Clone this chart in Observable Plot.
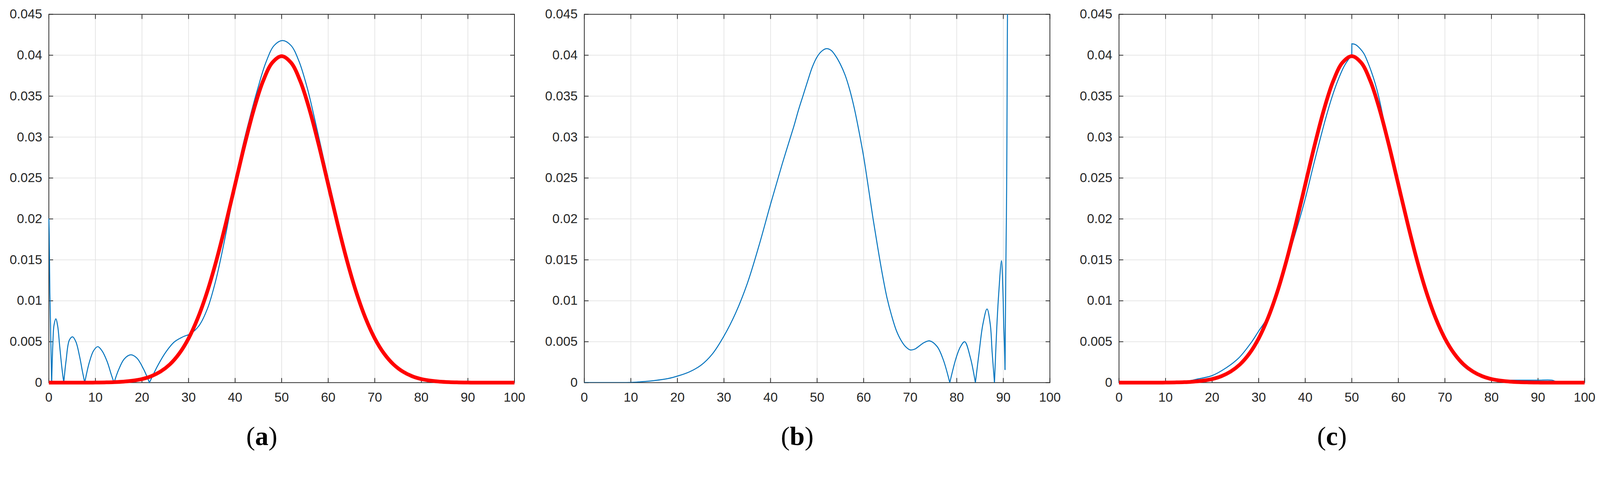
<!DOCTYPE html>
<html>
<head>
<meta charset="utf-8">
<script src="https://cdn.jsdelivr.net/npm/d3@7"></script>
<script src="https://cdn.jsdelivr.net/npm/@observablehq/plot@0.6"></script>
<style>
  html, body { margin: 0; padding: 0; background: #fff; overflow: hidden; }
  #fig { position: relative; width: 4306px; height: 1231px; overflow: hidden; background: #fff; transform-origin: 0 0; }
  .panel { position: absolute; top: 0; }
  .cap { position: absolute; top: 1137px; width: 300px; font-family: "Liberation Serif", "DejaVu Serif", serif; font-size: 72px; line-height: 72px; color: #000; text-align: center; }
  .cap b { font-weight: bold; }
</style>
</head>
<body>
<div id="fig"></div>
<script>
// ---- axes ----
const xTicks = [0, 10, 20, 30, 40, 50, 60, 70, 80, 90, 100];
const xTickLabels = ["0", "10", "20", "30", "40", "50", "60", "70", "80", "90", "100"];
const yTicks = [0, 0.005, 0.01, 0.015, 0.02, 0.025, 0.03, 0.035, 0.04, 0.045];
const yTickLabels = ["0", "0.005", "0.01", "0.015", "0.02", "0.025", "0.03", "0.035", "0.04", "0.045"];
const panelLabels = ["a", "b", "c"];

// ---- red reference curve (panels a and c) ----
const redX = [0, 2, 4, 6, 8, 10, 12, 14, 16, 18, 20, 22, 24, 26, 28, 30, 32, 34, 36, 38, 40, 42, 44, 46, 48, 50,
              52, 54, 56, 58, 60, 62, 64, 66, 68, 70, 72, 74, 76, 78, 80, 82, 84, 86, 88, 90, 92, 94, 96, 98, 100];
const redY = [0, 0, 0, 0, 0, 0.00001, 0.00003, 0.00006, 0.00012, 0.00024, 0.00044, 0.00079, 0.00136, 0.00224, 0.00355,
              0.00540, 0.00790, 0.01109, 0.01497, 0.01942, 0.02420, 0.02897, 0.03332, 0.03683, 0.03910, 0.03989,
              0.03910, 0.03683, 0.03332, 0.02897, 0.02420, 0.01942, 0.01497, 0.01109, 0.00790, 0.00540, 0.00355,
              0.00224, 0.00136, 0.00079, 0.00044, 0.00024, 0.00012, 0.00006, 0.00003, 0.00001, 0, 0, 0, 0, 0];

// ---- blue curve, panel (a) ----
const blueAX = [0, 0.08, 0.15, 0.22, 0.3, 0.45, 0.6, 0.86, 1.1, 1.5, 1.9, 2.3, 2.8, 3.2, 3.7, 4.4, 5.1, 5.8, 6.6, 7.2, 7.7,
                8.7, 9.6, 10.5, 11.4, 12.5, 13.4, 14.0, 15.0, 16.2, 17.6, 18.9, 20.3, 21.6, 23.4, 25.2, 27.0, 28.8,
                30.5, 32.3, 34.1, 35.9, 37.7, 39.4, 41.2, 43.0, 44.8, 46.6, 48.4, 50.2, 52.0, 53.7, 55.5, 57.3, 59.0,
                60.8, 62.6, 64.4, 66.2, 68, 70, 72, 74, 76, 78, 80, 82, 85, 90, 100];
const blueAY = [0.0200, 0.0181, 0.0145, 0.0110, 0.0088, 0.0040, 0, 0.0048, 0.0070, 0.0078, 0.0069, 0.0046, 0.0018, 0,
                0.0027, 0.0052, 0.0056, 0.0050, 0.0032, 0.0014, 0, 0.0025, 0.0039, 0.0044, 0.0039, 0.0026, 0.0010, 0,
                0.0016, 0.0029, 0.0034, 0.0030, 0.0017, 0, 0.0021, 0.0038, 0.0050, 0.0056, 0.0060, 0.0070, 0.0091,
                0.0126, 0.0173, 0.0223, 0.0278, 0.0320, 0.0358, 0.0391, 0.0412, 0.0418, 0.0412, 0.0393, 0.0360,
                0.0317, 0.0274, 0.0230, 0.0186, 0.0145, 0.0109, 0.0080, 0.0054, 0.0035, 0.0021, 0.0012, 0.0007,
                0.0004, 0.0002, 0.0001, 0.00003, 0];
const blueACusps = [0.6, 3.2, 7.7, 14.0, 21.6];

// ---- blue curve, panel (b) ----
const blueBX = [0, 5, 10, 12, 15, 18, 20, 22.5, 25, 27.5, 30, 32.5, 35, 37.5, 40, 42.5, 45, 46, 47, 48, 49, 50, 51, 52,
                53, 54, 55, 56, 57, 58, 59, 60, 61, 62, 63, 64, 65, 66, 67, 68, 69, 70, 71, 72, 73, 74.2, 75.8, 77.1,
                78.5, 79.9, 80.8, 81.7, 82.9, 84.0, 84.8, 85.6, 86.5, 87.2, 87.6, 88.1, 88.6, 89.0, 89.6, 89.9, 90.1,
                90.25, 90.37, 90.48, 90.56, 90.69, 90.77, 90.83, 90.9, 91.0];
const blueBY = [0.00002, 0.00002, 0.00003, 0.0001, 0.00025, 0.0005, 0.0008, 0.0013, 0.0021, 0.0035, 0.0057, 0.0085,
                0.0121, 0.0167, 0.0218, 0.0267, 0.0313, 0.0333, 0.0351, 0.0369, 0.0386, 0.0398, 0.0405, 0.0408,
                0.0406, 0.0399, 0.0389, 0.0376, 0.0358, 0.0335, 0.0307, 0.0276, 0.0239, 0.0201, 0.0166, 0.0133,
                0.0104, 0.0082, 0.0064, 0.0052, 0.0044, 0.0040, 0.0041, 0.0045, 0.0049, 0.0051, 0.0044, 0.0028, 0,
                0.0031, 0.0044, 0.0050, 0.0031, 0, 0.0037, 0.0071, 0.0090, 0.0071, 0.0037, 0, 0.0068, 0.0108,
                0.0149, 0.0114, 0.0068, 0.0044, 0.0016, 0.0099, 0.0151, 0.0221, 0.0295, 0.0384, 0.0460, 0.0600];
const blueBCusps = [78.5, 84.0, 88.1, 90.37];

// ---- blue curve, panel (c) ----
const blueCX = [0, 10, 14, 16.5, 20, 23, 25.7, 28.4, 30, 31.6, 33.7, 35.6, 37.7, 39.1, 40.2, 41.7, 43.0, 44.4, 45.7,
                47.0, 48.4, 49.7, 50.0, 50.02, 50.8, 51.8, 52.6, 53.4, 54.2, 55.0, 55.8, 56.6, 57.4, 58.5, 60, 62, 64,
                66, 68, 70, 72, 74, 76, 78, 80, 82, 84, 85.5, 88, 90, 93, 94, 96, 100];
const blueCY = [0.00002, 0.00003, 0.0001, 0.0004, 0.00086, 0.0018, 0.0030, 0.0049, 0.0063, 0.0077, 0.0107, 0.0140,
                0.0179, 0.0206, 0.0229, 0.0264, 0.0293, 0.0323, 0.0348, 0.0369, 0.0387, 0.0398, 0.0400, 0.0414,
                0.0413, 0.0408, 0.0402, 0.0392, 0.0380, 0.0366, 0.0349, 0.0328, 0.0307, 0.0280, 0.0244, 0.0194,
                0.0149, 0.0109, 0.0077, 0.0052, 0.0033, 0.0020, 0.0012, 0.0007, 0.0004, 0.0003, 0.0003, 0.0003,
                0.0003, 0.0003, 0.0003, 0.0001, 0.00005, 0.00002];
const blueCCusps = [50.0, 50.02];

// ---- helpers ----
function rowsOf(xs, ys, cusps = []) {
  const rows = [];
  let s = 0;
  xs.forEach((x, i) => {
    rows.push({x, y: ys[i], s});
    if (cusps.includes(x) && i > 0 && i < xs.length - 1) {
      s++;
      rows.push({x, y: ys[i], s});
    }
  });
  return rows;
}

const BLUE = "#0072BD";
const RED = "#FF0000";
const AXIS = "#262626";
const GRID = "#dfdfdf";

const W = 1413, H = 1109, ML = 130, MR = 30, MT = 38, MB = 80;
const panelLefts = [1, 1442, 2881];

const redRows = rowsOf(redX, redY);
const panels = [
  {blue: rowsOf(blueAX, blueAY, blueACusps), red: true, clip: false},
  {blue: rowsOf(blueBX, blueBY, blueBCusps), red: false, clip: true},
  {blue: rowsOf(blueCX, blueCY, blueCCusps), red: true, clip: false}
];

const fig = document.getElementById("fig");
// fit the 4306x1231 figure into the actual viewport
const fitScale = Math.min(window.innerWidth / 4306, window.innerHeight / 1231);
if (Math.abs(fitScale - 1) > 0.002) fig.style.transform = `scale(${fitScale})`;

panels.forEach((p, k) => {
  const xFmt = d => xTickLabels[xTicks.indexOf(d)];
  const yFmt = d => yTickLabels[yTicks.indexOf(d)];
  const tickOpts = {tickSize: -12, tickFormat: () => "", stroke: AXIS, strokeWidth: 2, label: null};
  const marks = [
    Plot.gridX(xTicks, {stroke: GRID, strokeOpacity: 1, strokeWidth: 1.6}),
    Plot.gridY(yTicks, {stroke: GRID, strokeOpacity: 1, strokeWidth: 1.6}),
    Plot.axisX(xTicks, {anchor: "bottom", tickSize: 0, tickPadding: 26, tickFormat: xFmt, label: null, fill: AXIS}),
    Plot.axisY(yTicks, {anchor: "left", tickSize: 0, tickPadding: 18, tickFormat: yFmt, label: null, fill: AXIS}),
    Plot.axisX(xTicks, {anchor: "bottom", ...tickOpts}),
    Plot.axisX(xTicks, {anchor: "top", ...tickOpts}),
    Plot.axisY(yTicks, {anchor: "left", ...tickOpts}),
    Plot.axisY(yTicks, {anchor: "right", ...tickOpts}),
    Plot.frame({stroke: AXIS, strokeWidth: 2}),
    Plot.line(p.blue, {x: "x", y: "y", z: "s", stroke: BLUE, strokeWidth: 2.6, curve: "catmull-rom", clip: p.clip})
  ];
  if (p.red) {
    marks.push(Plot.line(redRows, {x: "x", y: "y", stroke: RED, strokeWidth: 10, curve: "catmull-rom", strokeLinecap: "butt"}));
  }
  const svg = Plot.plot({
    width: W, height: H,
    marginLeft: ML, marginRight: MR, marginTop: MT, marginBottom: MB,
    x: {domain: [0, 100]},
    y: {domain: [0, 0.045]},
    style: {fontFamily: "'Liberation Sans', Arial, Helvetica, sans-serif", fontSize: "35px", color: AXIS, background: "transparent", overflow: "visible", maxWidth: "none"},
    marks
  });
  const wrap = document.createElement("div");
  wrap.className = "panel";
  wrap.style.left = panelLefts[k] + "px";
  wrap.appendChild(svg);
  fig.appendChild(wrap);

  const cap = document.createElement("div");
  cap.className = "cap";
  const cx = panelLefts[k] + ML + (W - ML - MR) / 2 - 53;
  cap.style.left = (cx - 150) + "px";
  cap.innerHTML = "(<b>" + panelLabels[k] + "</b>)";
  fig.appendChild(cap);
});
</script>
</body>
</html>
